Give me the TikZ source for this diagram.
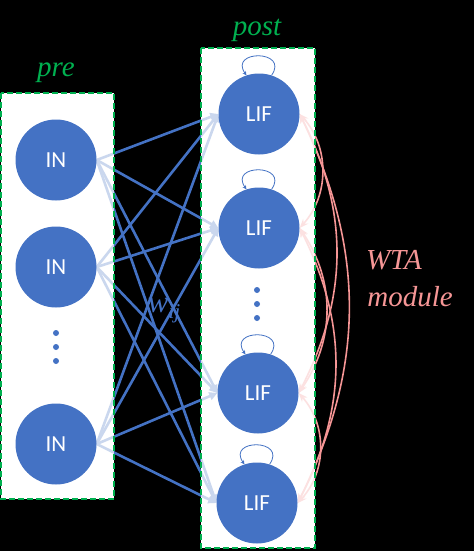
\documentclass[tikz,border=0pt]{standalone}
\usepackage{fontspec}
\setmainfont{Liberation Serif}
\newfontfamily\cellfont{Carlito}
\usetikzlibrary{arrows.meta}
\definecolor{cellblue}{RGB}{68,114,196}
\definecolor{boxgreen}{RGB}{0,176,80}
\definecolor{wtapink}{RGB}{246,150,150}
\pgfdeclarelayer{ground}
\pgfdeclarelayer{back}
\pgfdeclarelayer{mid}
\pgfsetlayers{ground,back,mid,main}
\begin{document}
\begin{tikzpicture}[x=1pt,y=-1pt,
    cell/.style={circle,fill=cellblue,minimum size=81pt,inner sep=0pt,text=white,font=\cellfont\fontsize{23}{23}\selectfont},
    layerfill/.style={fill=white,fill opacity=0.72},
    layer/.style={draw=boxgreen,line width=2.4pt,dash pattern=on 6pt off 3pt},
    syn/.style={cellblue,line width=2.6pt,-{Triangle[length=8pt,width=8pt]}},
    wta/.style={wtapink,line width=1.6pt,{Stealth[length=9pt,width=7pt]}-{Stealth[length=9pt,width=7pt]}},
    selfloop/.style={cellblue,line width=0.8pt,-{Stealth[length=4pt,width=4pt]}},
    dot/.style={circle,fill=cellblue,minimum size=6pt,inner sep=0pt},
    title/.style={font=\itshape\fontsize{29}{29}\selectfont}]
    \begin{pgfonlayer}{ground}
        \fill[black] (0,0) rectangle (474,551);
        \fill[white] (1,93) rectangle (114,499);
        \fill[white] (201,48) rectangle (315,548);
    \end{pgfonlayer}
    \useasboundingbox (0,0) rectangle (474,551);
    % input layer
    \node[cell] (in1) at (56,160) {IN};
    \node[cell] (in2) at (56,267) {IN};
    \node[cell] (in3) at (56,444) {IN};
    \node[dot] (ind1) at (56,333) {};
    \node[dot] (ind2) at (56,347) {};
    \node[dot] (ind3) at (56,361) {};
    % output layer
    \node[cell] (lif1) at (259,114) {LIF};
    \node[cell] (lif2) at (259,228) {LIF};
    \node[cell] (lif3) at (258,393) {LIF};
    \node[cell] (lif4) at (257,503) {LIF};
    \node[dot] (lifd1) at (257,290) {};
    \node[dot] (lifd2) at (257,304) {};
    \node[dot] (lifd3) at (257,318) {};
    % synapses
    \begin{pgfonlayer}{back}
        \foreach \i in {1,2,3}
            \foreach \j in {1,2,3,4}
                \draw[syn] (in\i.east) -- (lif\j.west);
        \draw[wta] (lif1.east) to[bend left=42] (lif2.east);
        \draw[wta] (lif2.east) to[bend left=34] (lif3.east);
        \draw[wta] (lif3.east) to[bend left=42] (lif4.east);
        \draw[wta] (lif1.east) to[bend left=27] (lif3.east);
        \draw[wta] (lif2.east) to[bend left=27] (lif4.east);
        \draw[wta] (lif1.east) to[bend left=26] (lif4.east);
    \end{pgfonlayer}
    % boxes
    \begin{pgfonlayer}{mid}
        \fill[layerfill] (1,93) rectangle (114,499);
        \fill[layerfill] (201,48) rectangle (315,548);
        \draw[layer] (1,93) rectangle (114,499);
        \draw[layer] (201,48) rectangle (315,548);
    \end{pgfonlayer}
    % self connections
    \foreach \j in {1,2,3,4}
        \draw[selfloop] (lif\j.72) to[out=55,in=125,looseness=3.2] (lif\j.108);
    % labels
    \node[title,boxgreen] (prelabel) at (56,73) {pre};
    \node[title,boxgreen] (postlabel) at (257,30) {post};
    \node[title,wtapink] (wtalabel) at (394,260) {WTA};
    \node[title,wtapink] (modlabel) at (410,297) {module};
    \node[cellblue,font=\itshape,inner sep=0pt] (wlabel) at (164,311) {\fontsize{31}{31}\selectfont w\raisebox{-6pt}{\fontsize{21}{21}\selectfont ij}};
\end{tikzpicture}
\end{document}
